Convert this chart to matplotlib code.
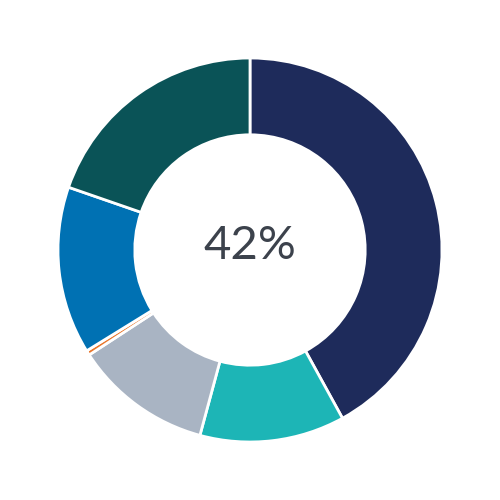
import numpy as np
import matplotlib.pyplot as plt

# slice shares, clockwise from 12 o'clock
labels = ['Navy', 'Teal', 'Gray', 'Orange', 'Blue', 'Dark green']
values = [42.0, 12.2, 11.6, 0.4, 14.1, 19.7]
colors = ['#1e2b5b', '#1db5b6', '#a9b4c3', '#e8762c', '#0071b3', '#0a5357']
center_text = '42%'

fig = plt.figure(figsize=(5, 5), dpi=100)
ax = fig.add_axes([0, 0, 1, 1])

ax.pie(values, colors=colors, startangle=90, counterclock=False,
       radius=1.0,
       wedgeprops=dict(width=0.40, edgecolor='white', linewidth=2))

ax.text(0, 0.02, center_text, ha='center', va='center', fontsize=34,
        color='#3c424c', family=['Lato', 'DejaVu Sans'])

lim = 250 / 192
ax.set_xlim(-lim, lim)
ax.set_ylim(-lim, lim)
ax.set_aspect('equal')
ax.axis('off')

fig.savefig('out.png', dpi=100, facecolor='white')
